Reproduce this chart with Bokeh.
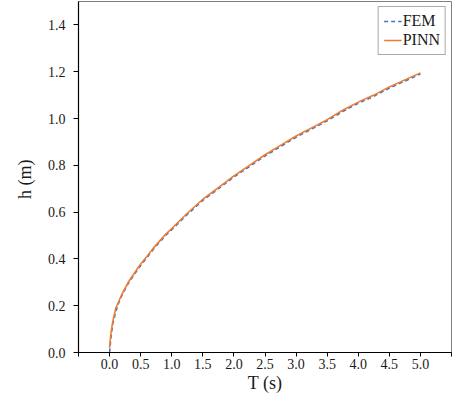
from bokeh.embed import file_html
from bokeh.models import ColumnDataSource, FixedTicker, Range1d, Legend, LegendItem
from bokeh.plotting import figure
from bokeh.resources import INLINE

# values
t_vals = [0.0, 0.02, 0.05, 0.1, 0.15, 0.2, 0.3, 0.4, 0.5, 0.6, 0.7, 0.8, 0.9, 1.0,
          1.25, 1.5, 1.75, 2.0, 2.25, 2.5, 2.75, 3.0, 3.25, 3.5, 3.75, 4.0, 4.25,
          4.5, 4.75, 5.0]
h_fem = [0.0, 0.06, 0.12, 0.175, 0.215, 0.245, 0.295, 0.335, 0.372, 0.405, 0.44,
         0.47, 0.50, 0.525, 0.59, 0.65, 0.70, 0.75, 0.795, 0.84, 0.88, 0.92,
         0.955, 0.99, 1.03, 1.065, 1.095, 1.13, 1.16, 1.19]
h_pinn = [0.02, 0.08, 0.13, 0.19, 0.22, 0.25, 0.30, 0.34, 0.378, 0.41, 0.445,
          0.475, 0.505, 0.53, 0.595, 0.655, 0.705, 0.755, 0.80, 0.845, 0.885,
          0.925, 0.96, 0.995, 1.035, 1.07, 1.10, 1.135, 1.165, 1.195]
x_ticks = [-0.5, 0.0, 0.5, 1.0, 1.5, 2.0, 2.5, 3.0, 3.5, 4.0, 4.5, 5.0, 5.5]
y_ticks = [0.0, 0.2, 0.4, 0.6, 0.8, 1.0, 1.2, 1.4]

FONT = "Liberation Serif"

src = ColumnDataSource(dict(T=t_vals, fem=h_fem, pinn=h_pinn))

p = figure(
    width=458, height=396,
    x_range=Range1d(-0.5, 5.5), y_range=Range1d(0, 1.5),
    output_backend="svg", toolbar_location=None,
    min_border_left=78, min_border_right=7, min_border_top=1, min_border_bottom=44,
)
p.grid.visible = False
p.outline_line_color = "#7f7f7f"
p.outline_line_width = 1

r_fem = p.line("T", "fem", source=src, line_color="#4472C4", line_width=1.6, line_dash="4 3")
r_pinn = p.line("T", "pinn", source=src, line_color="#ED7D31", line_width=1.6)

labels_x = {v: ("%.1f" % v) for v in x_ticks}
labels_x[-0.5] = ""
labels_x[5.5] = ""
p.xaxis.ticker = FixedTicker(ticks=x_ticks)
p.xaxis.major_label_overrides = labels_x
p.yaxis.ticker = FixedTicker(ticks=y_ticks)
p.yaxis.major_label_overrides = {v: ("%.1f" % v) for v in y_ticks}

for ax in (p.xaxis, p.yaxis):
    ax.axis_line_color = "black"
    ax.axis_line_width = 1.2
    ax.major_tick_line_color = "black"
    ax.major_tick_out = 5
    ax.major_tick_in = 0
    ax.minor_tick_line_color = None
    ax.major_label_text_font = FONT
    ax.major_label_text_font_size = "14px"
    ax.major_label_text_color = "#1a1a1a"
    ax.axis_label_text_font = FONT
    ax.axis_label_text_font_size = "18px"
    ax.axis_label_text_font_style = "normal"
    ax.axis_label_text_color = "#1a1a1a"

p.xaxis.axis_label = "T (s)"
p.yaxis.axis_label = "h  (m)"
p.xaxis.major_tick_out = 4
p.xaxis.major_label_standoff = 2
p.xaxis.axis_label_standoff = 1
p.yaxis.major_label_standoff = 8
p.yaxis.axis_label_standoff = 10

legend = Legend(items=[
    LegendItem(label="FEM", renderers=[r_fem]),
    LegendItem(label="PINN", renderers=[r_pinn]),
], location="top_right")
legend.label_text_font = FONT
legend.label_text_font_size = "16px"
legend.label_text_color = "#1a1a1a"
legend.label_height = 18
legend.glyph_height = 18
legend.border_line_color = "#555555"
legend.border_line_width = 1.2
legend.glyph_width = 18
legend.label_standoff = 1
legend.spacing = 1
legend.padding = 5
legend.margin = 5
p.add_layout(legend)

open("out.html", "w").write(file_html(p, INLINE))
